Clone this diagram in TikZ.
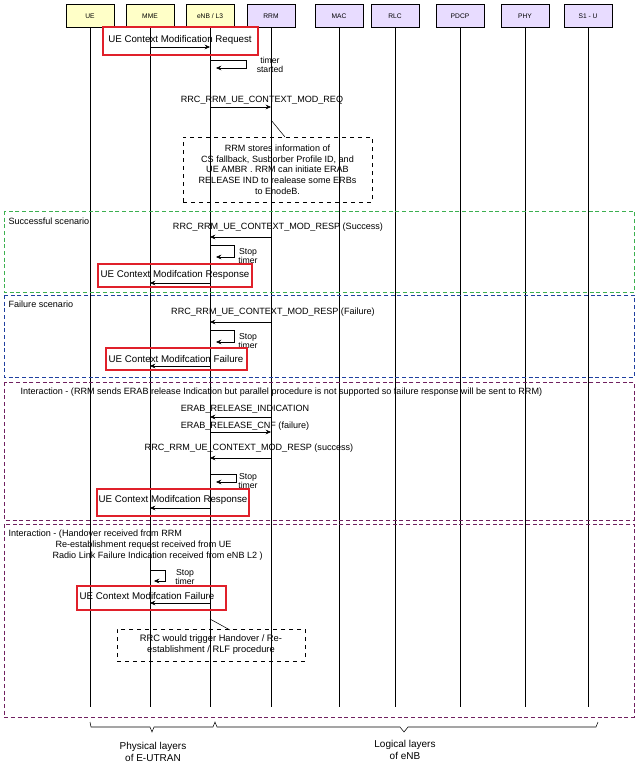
\documentclass[tikz,border=0pt]{standalone}
\usepackage{fontspec}
\setmainfont{Liberation Sans}
\usetikzlibrary{arrows.meta}
\definecolor{yel}{HTML}{FFFFC8}
\definecolor{lav}{HTML}{E8DCFF}
\definecolor{redb}{HTML}{E0202A}
\definecolor{grn}{HTML}{3CB050}
\definecolor{blu}{HTML}{2040A0}
\definecolor{pur}{HTML}{702060}
\begin{document}
\begin{tikzpicture}[x=0.75pt,y=-0.75pt,
  every node/.style={font=\fontsize{6.8}{7.6}\selectfont, inner sep=1pt},
  hd/.style={draw, minimum width=36pt, minimum height=17pt, font=\fontsize{5}{5.5}\selectfont},
  life/.style={line width=0.5pt},
  msg/.style={line width=0.5pt, -{Stealth[length=4pt,width=3.5pt]}},
  redbox/.style={draw=redb, line width=1.6pt},
  note/.style={draw, dashed, line width=0.5pt},
  frm/.style={line width=0.6pt, densely dashed},
  lbl/.style={align=center, font=\fontsize{6.5}{7}\selectfont},
  big/.style={font=\fontsize{7.3}{8}\selectfont}]
\useasboundingbox (0,0) rectangle (643,769);
\fill[white] (0,0) rectangle (643,769);
% headers
\foreach \n/\x/\t/\c in {ue/90/UE/yel, mme/150/MME/yel, enb/210/{eNB / L3}/yel, rrm/271/RRM/lav, mac/339/MAC/lav, rlc/395/RLC/lav, pdcp/460/PDCP/lav, phy/525/PHY/lav, s1u/588/{S1 - U}/lav}{
  \node[hd, fill=\c] (\n) at (\x,16) {\t};
  \coordinate (\n-end) at (\x,707);
  \draw[life] (\n.south) -- (\n-end);
}
% frames
\draw[frm, draw=grn] (4,211) rectangle (634,292);
\draw[frm, draw=blu] (4,295) rectangle (634,377);
\draw[frm, draw=pur] (4,382) rectangle (634,520);
\draw[frm, draw=pur] (4,524) rectangle (634,717);
% request
\draw[redbox] (103,27) rectangle (258,55);
\node[big] (t1) at (180,40) {UE Context Modification Request};
\draw[msg] (mme |- 0,47) -- (enb |- 0,47);
\draw[msg] (enb |- 0,60) -- (246,60) -- (246,68) -- (216,68);
\node[lbl] (ts) at (270,65) {timer\\started};
\node (m1) at (262,100) {RRC\_RRM\_UE\_CONTEXT\_MOD\_REQ};
\draw[msg] (enb |- 0,107) -- (rrm |- 0,107);
\node[note, align=center, minimum width=141.75pt, minimum height=48.75pt, font=\fontsize{6.8}{8}\selectfont] (n1) at (277.5,169.5) {RRM stores information of\\CS fallback, Susborber Profile ID, and\\UE AMBR . RRM can initiate ERAB\\RELEASE IND to realease some ERBs\\to EnodeB.};
\draw[line width=0.4pt] (rrm |- 0,120) -- (285,137);
% success
\node[anchor=west] (s0) at (7,221) {Successful scenario};
\node (s1) at (278,227) {RRC\_RRM\_UE\_CONTEXT\_MOD\_RESP (Success)};
\draw[msg] (rrm |- 0,237) -- (enb |- 0,237);
\draw[msg] (enb |- 0,245) -- (234,245) -- (234,257) -- (216,257);
\node[lbl] (st1) at (248,256) {Stop\\timer};
\draw[redbox] (98,264) rectangle (252,287);
\node[big] (s2) at (175,275) {UE Context Modifcation Response};
\draw[msg] (enb |- 0,283) -- (mme |- 0,283);
% failure
\node[anchor=west] (f0) at (7,304) {Failure scenario};
\node (f1) at (273,312) {RRC\_RRM\_UE\_CONTEXT\_MOD\_RESP (Failure)};
\draw[msg] (rrm |- 0,322) -- (enb |- 0,322);
\draw[msg] (enb |- 0,330) -- (234,330) -- (234,342) -- (216,342);
\node[lbl] (st2) at (248,341) {Stop\\timer};
\draw[redbox] (106,348) rectangle (247,370);
\node[big] (f2) at (176,359) {UE Context Modifcation Failure};
\draw[msg] (enb |- 0,366) -- (mme |- 0,366);
% interaction 1
\node[anchor=west] (i0) at (19,392) {Interaction - (RRM sends ERAB release Indication but parallel procedure is not supported so failure response will be sent to RRM)};
\node (i1) at (245,409) {ERAB\_RELEASE\_INDICATION};
\draw[msg] (rrm |- 0,417) -- (enb |- 0,417);
\node (i2) at (245,426) {ERAB\_RELEASE\_CNF (failure)};
\draw[msg] (enb |- 0,432) -- (rrm |- 0,432);
\node (i3) at (249,448) {RRC\_RRM\_UE\_CONTEXT\_MOD\_RESP (success)};
\draw[msg] (rrm |- 0,458) -- (enb |- 0,458);
\draw[msg] (enb |- 0,474) -- (236,474) -- (236,482) -- (216,482);
\node[lbl] (st3) at (248,481) {Stop\\timer};
\draw[redbox] (97,489) rectangle (249,516);
\node[big] (i4) at (173,500) {UE Context Modifcation Response};
\draw[msg] (enb |- 0,508) -- (mme |- 0,508);
% interaction 2
\node[anchor=west] (j0) at (7,534) {Interaction - (Handover received from RRM};
\node[anchor=west] (j1) at (54,545) {Re-establishment request received from UE};
\node[anchor=west] (j2) at (51,556) {Radio Link Failure Indication received from eNB L2 )};
\draw[msg] (mme |- 0,570) -- (165,570) -- (165,581) -- (154,581);
\node[lbl] (st4) at (185,577) {Stop\\timer};
\draw[redbox] (77,586) rectangle (226,610);
\node[big] (j3) at (147,596) {UE Context Modifcation Failure};
\draw[msg] (enb |- 0,603) -- (mme |- 0,603);
\draw[line width=0.4pt] (enb |- 0,619) -- (230,630);
\node[note, align=center, minimum width=141pt, minimum height=24pt, font=\fontsize{7}{8.2}\selectfont] (n2) at (211,645) {RRC would trigger Handover / Re-\\establishment / RLF procedure};
% braces
\draw[line width=0.4pt] (ue-end |- 0,722) -- (91,727) -- (150,727) -- (152,732) -- (154,727) -- (213,727) -- (215,722) -- (217,727) -- (400,727) -- (404,732) -- (408,727) -- (596,727) -- (598,722);
\node[align=center, font=\fontsize{7.5}{8.5}\selectfont] (b1) at (153,752) {Physical layers\\of E-UTRAN};
\node[align=center, font=\fontsize{7.5}{8.5}\selectfont] (b2) at (405,750) {Logical layers\\of eNB};
\end{tikzpicture}
\end{document}
